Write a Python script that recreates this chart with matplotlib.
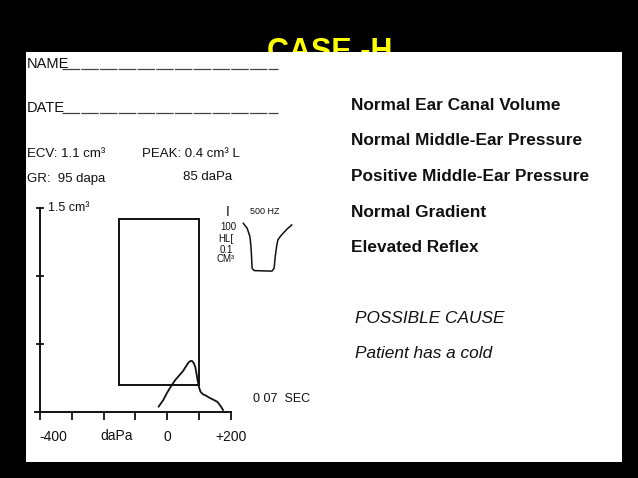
import matplotlib
matplotlib.use("Agg")
import matplotlib.pyplot as plt
from matplotlib.patches import Rectangle

W, H = 638, 478

# text content
title = "CASE -H"
form_fields = ["NAME", "DATE"]
left_info = ["ECV: 1.1 cm³", "GR:  95 dapa"]
peak_info = ["PEAK: 0.4 cm³ L", "85 daPa"]
findings = ["Normal Ear Canal Volume", "Normal Middle-Ear Pressure",
            "Positive Middle-Ear Pressure", "Normal Gradient", "Elevated Reflex"]
cause = ["POSSIBLE CAUSE", "Patient has a cold"]

# tympanogram (daPa vs cm3)
tymp_pressure = [-27, -12, -1, 12, 25, 38, 49, 60, 67, 73, 78, 83, 88, 92, 95, 100,
                 104, 112, 122, 132, 145, 157, 167, 175]
tymp_compliance = [0.04, 0.09, 0.14, 0.19, 0.235, 0.27, 0.30, 0.34, 0.365, 0.375, 0.375,
                   0.36, 0.33, 0.28, 0.235, 0.18, 0.15, 0.13, 0.12, 0.105, 0.09, 0.075,
                   0.045, 0.015]
norm_pressure = (-150, 100)
norm_compliance = (0.2, 1.42)
xtick_vals = [-400, -300, -200, -100, 0, 100, 200]
xtick_labels = ["-400", "", "", "", "0", "", "+200"]
ytick_vals = [0.5, 1.0, 1.5]

# acoustic reflex trace (relative time, deflection)
reflex_t = [0.06, 0.13, 0.18, 0.20, 0.21, 0.22, 0.26, 0.58, 0.62, 0.64, 0.67, 0.69,
            0.74, 0.85, 0.94]
reflex_d = [-0.06, -0.15, -0.30, -0.49, -0.67, -0.88, -0.92, -0.93, -0.88, -0.67,
            -0.45, -0.36, -0.29, -0.17, -0.09]

sans = ["Liberation Sans", "DejaVu Sans"]
ink = "#111111"


def fx(x):
    return x / W


def fy(y):
    return 1 - y / H


fig = plt.figure(figsize=(W / 100, H / 100), dpi=100, facecolor="black")

# title sits behind the white sheet
fig.text(fx(330), fy(60), title, color="#ffff00", fontsize=22, fontweight="bold",
         family=sans, ha="center", va="baseline", zorder=-1)

# white sheet
bg = fig.add_axes([fx(26), fy(462), (622 - 26) / W, (462 - 52) / H], zorder=0)
bg.set_facecolor("white")
bg.set_xticks([])
bg.set_yticks([])
for s in bg.spines.values():
    s.set_visible(False)

# header lines
for i, name in enumerate(form_fields):
    yb = [68, 112][i]
    fig.text(fx(27), fy(yb), name, fontsize=10.5, family=sans, va="baseline", color=ink)
    fig.add_artist(plt.Line2D([fx(62), fx(278)], [fy(yb + 1), fy(yb + 1)],
                              color="#444444", lw=0.9, ls=(0, (14, 1))))

for i, s in enumerate(left_info):
    fig.text(fx(27), fy(157 + i * 25), s, fontsize=9.5, family=sans, va="baseline",
             color=ink)
fig.text(fx(142), fy(157), peak_info[0], fontsize=9.5, family=sans, va="baseline",
         color=ink)
fig.text(fx(183), fy(180), peak_info[1], fontsize=9.5, family=sans, va="baseline",
         color=ink)
fig.text(fx(48), fy(211), "1.5 cm³", fontsize=9, family=sans, va="baseline", color=ink)

for i, s in enumerate(findings):
    fig.text(fx(351), fy([110, 145, 181, 217, 252][i]), s, fontsize=12.4,
             fontweight="bold", family=sans, va="baseline", color=ink)
for i, s in enumerate(cause):
    fig.text(fx(355), fy([323, 358][i]), s, fontsize=12.4, style="italic",
             family=sans, va="baseline", color=ink)

# tympanogram
ax = fig.add_axes([fx(35), fy(412), 196 / W, (412 - 208) / H], zorder=1)
ax.patch.set_alpha(0)
ax.set_xlim(-415, 200)
ax.set_ylim(0, 1.5)
ax.spines["top"].set_visible(False)
ax.spines["right"].set_visible(False)
ax.spines["left"].set_position(("data", -400))
for s in ("left", "bottom"):
    ax.spines[s].set_linewidth(1.4)
    ax.spines[s].set_color(ink)
ax.add_patch(Rectangle((norm_pressure[0], norm_compliance[0]),
                       norm_pressure[1] - norm_pressure[0],
                       norm_compliance[1] - norm_compliance[0],
                       fill=False, lw=1.4, ec=ink))
ax.plot(tymp_pressure, tymp_compliance, color=ink, lw=1.3)
ax.set_xticks(xtick_vals)
ax.set_xticklabels(xtick_labels, fontsize=10, family=sans, color=ink)
ax.get_xticklabels()[0].set_horizontalalignment("left")
ax.set_yticks(ytick_vals)
ax.set_yticklabels([])
ax.tick_params(axis="x", direction="out", length=6, width=1.3, pad=7, color=ink)
ax.tick_params(axis="y", direction="inout", length=6, width=1.3, color=ink)
ax.text(-160, -0.125, "daPa", fontsize=10, family=sans, ha="center", va="top", color=ink)

# reflex inset
rx = fig.add_axes([fx(240), fy(275), 55 / W, 55 / H], zorder=1)
rx.patch.set_alpha(0)
rx.set_xlim(0, 1)
rx.set_ylim(-1, 0)
rx.axis("off")
rx.plot(reflex_t, reflex_d, color=ink, lw=1.1)

fig.text(fx(228), fy(216), "I", fontsize=10, family=sans, ha="center", va="baseline",
         color=ink)
fig.text(fx(265), fy(214), "500 HZ", fontsize=6.5, family=sans, ha="center",
         va="baseline", color=ink)
fig.text(fx(228), fy(230), "100", fontsize=7, family=sans, ha="center", va="baseline",
         color=ink)
fig.text(fx(226), fy(242), "HL[", fontsize=7, family=sans, ha="center", va="baseline",
         color=ink)
fig.text(fx(226), fy(262), "0.1\nCM³", fontsize=7, family=sans, ha="center",
         va="baseline", linespacing=0.9, color=ink)
fig.text(fx(253), fy(402), "0 07  SEC", fontsize=9, family=sans, va="baseline", color=ink)

fig.savefig("out.png", dpi=100, facecolor="black")
